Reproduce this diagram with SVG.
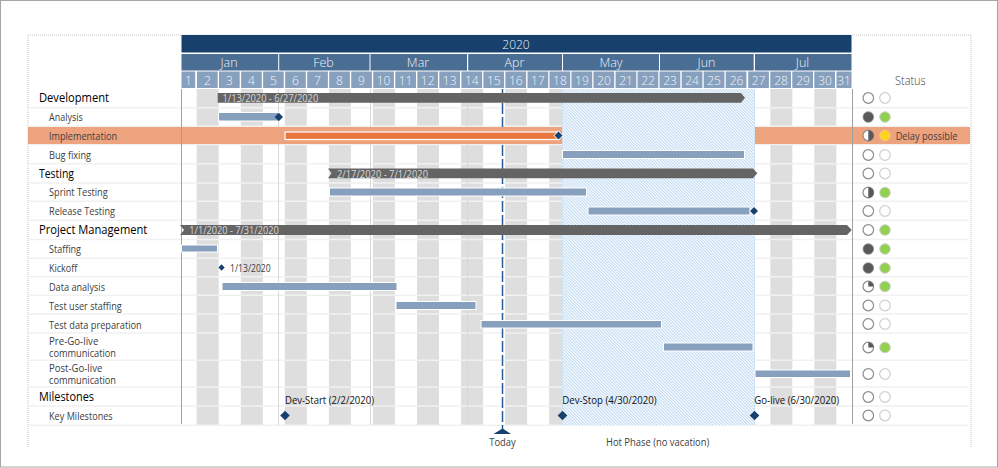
<svg xmlns="http://www.w3.org/2000/svg" width="998" height="468" viewBox="0 0 998 468">
<style>
text{font-family:"Open Sans","Noto Sans","Liberation Sans",sans-serif}
.st{fill:#dedede}
.sep{stroke:#f1f1f1;stroke-width:1.5;fill:none}
.mon{stroke:#d9d9d9;stroke-width:1;fill:none}
.mh{fill:#4a6d94}
.wh{fill:#87a0bd}
.mt{fill:#f0f3f7;font-size:12.5px;text-anchor:middle;font-weight:300}
.wt{fill:#f4f6f9;font-size:12px;text-anchor:middle;font-weight:300}
.h{fill:#000;font-size:13px}
.s{fill:#404040;font-size:10.5px}
.bar{fill:#87a0bd;stroke:#fff;stroke-width:1}
.sum{fill:#646464}
.st2{fill:#d8d8d8;font-size:10.5px}
.dia{fill:#17406d}
.dh{fill:#17406d;stroke:#fff;stroke-width:1.5;paint-order:stroke}
.ml{fill:#111;font-size:10.5px}
.a{fill:#fff;stroke:#8c8c8c;stroke-width:1.2}
.b{fill:#fff;stroke:#d0d0d0;stroke-width:1.2}
.f{fill:#595959;stroke:#8c8c8c;stroke-width:.8}
.g{fill:#92d050;stroke:#d0d0d0;stroke-width:1}
.p{fill:#595959}
</style>
<defs>
<pattern id="hatch" patternUnits="userSpaceOnUse" width="2.2" height="2.2" patternTransform="rotate(45)">
<rect width="2.2" height="2.2" fill="#fff"/>
<rect width="2.2" height="1.2" fill="#c4dcf3"/>
</pattern>
<path id="dm" d="M-6 0L0-6L6 0L0 6Z"/>
</defs>
<rect x="0.5" y="0.5" width="997" height="466.5" fill="#fff" stroke="#a6a6a6"/>
<path d="M28 447V35H971V447" fill="none" stroke="#c4c4c4" stroke-dasharray="1 1"/>

<g id="stripes">
<rect class="st" x="196.7" y="89" width="22" height="336"/>
<rect class="st" x="240.8" y="89" width="22" height="336"/>
<rect class="st" x="284.8" y="89" width="22" height="336"/>
<rect class="st" x="328.9" y="89" width="22" height="336"/>
<rect class="st" x="372.9" y="89" width="22" height="336"/>
<rect class="st" x="417" y="89" width="22" height="336"/>
<rect class="st" x="461.1" y="89" width="22" height="336"/>
<rect class="st" x="505.1" y="89" width="22" height="336"/>
<rect class="st" x="549.2" y="89" width="13" height="336"/>
<rect class="st" x="770.3" y="89" width="22" height="336"/>
<rect class="st" x="814.3" y="89" width="22" height="336"/>
</g>
<g id="row-lines">
<path class="sep" d="M28 107.7H968M28 126.2H968M28 144.6H968M28 163.7H968M28 183H968M28 201.2H968M28 220.2H968M28 239.6H968M28 258.2H968M28 276.8H968M28 295.2H968M28 314H968M28 333H968M28 360.3H968M28 387H968M28 406H968M28 425.2H968"/>
</g>
<g id="month-lines">
<path class="mon" d="M278.5 89V425M370.5 89V425M467.5 89V425"/>
</g>
<path id="today-line" d="M502.5 89V429" fill="none" stroke="#2a5c8f" stroke-width="1.5" stroke-dasharray="11 3"/>
<g id="highlight-band" fill="#eda47e">
<rect x="28" y="127" width="534" height="17"/>
<rect x="755" y="127" width="215" height="17"/>
</g>
<g id="hot-phase">
<rect x="562" y="89" width="193" height="336" fill="url(#hatch)"/>
<path d="M562.5 89V425M754.5 89V425" fill="none" stroke="#cfe2f6"/>
</g>
<path id="axes" d="M181.5 89V424M852.5 89V424" fill="none" stroke="#a0a0a0" stroke-width="1"/>

<g id="header">
<rect x="181.5" y="35" width="670" height="17.5" fill="#17406d"/>
<text x="516" y="49" class="mt" style="font-size:12px">2020</text>
<rect class="mh" x="181.5" y="54" width="96.7" height="16.5"/>
<rect class="mh" x="279.2" y="54" width="90.3" height="16.5"/>
<rect class="mh" x="370.5" y="54" width="96.5" height="16.5"/>
<rect class="mh" x="468.2" y="54" width="93.8" height="16.5"/>
<rect class="mh" x="563" y="54" width="96" height="16.5"/>
<rect class="mh" x="660" y="54" width="93.7" height="16.5"/>
<rect class="mh" x="755" y="54" width="96.5" height="16.5"/>
<text class="mt" x="229" y="66.5">Jan</text>
<text class="mt" x="323.5" y="66.5">Feb</text>
<text class="mt" x="418" y="66.5">Mar</text>
<text class="mt" x="514.5" y="66.5">Apr</text>
<text class="mt" x="611" y="66.5">May</text>
<text class="mt" x="706.5" y="66.5">Jun</text>
<text class="mt" x="802.5" y="66.5">Jul</text>
<rect class="wh" x="181.5" y="71.5" width="13.7" height="16.5"/><text class="wt" x="188.5" y="84.5">1</text>
<rect class="wh" x="197" y="71.5" width="20.7" height="16.5"/><text class="wt" x="207.4" y="84.5">2</text>
<rect class="wh" x="219" y="71.5" width="20.7" height="16.5"/><text class="wt" x="229.4" y="84.5">3</text>
<rect class="wh" x="241.1" y="71.5" width="20.7" height="16.5"/><text class="wt" x="251.5" y="84.5">4</text>
<rect class="wh" x="263.1" y="71.5" width="20.7" height="16.5"/><text class="wt" x="273.5" y="84.5">5</text>
<rect class="wh" x="285.1" y="71.5" width="20.7" height="16.5"/><text class="wt" x="295.5" y="84.5">6</text>
<rect class="wh" x="307.2" y="71.5" width="20.7" height="16.5"/><text class="wt" x="317.5" y="84.5">7</text>
<rect class="wh" x="329.2" y="71.5" width="20.7" height="16.5"/><text class="wt" x="339.5" y="84.5">8</text>
<rect class="wh" x="351.2" y="71.5" width="20.7" height="16.5"/><text class="wt" x="361.5" y="84.5">9</text>
<rect class="wh" x="373.2" y="71.5" width="20.7" height="16.5"/><text class="wt" x="383.6" y="84.5">10</text>
<rect class="wh" x="395.3" y="71.5" width="20.7" height="16.5"/><text class="wt" x="405.6" y="84.5">11</text>
<rect class="wh" x="417.3" y="71.5" width="20.7" height="16.5"/><text class="wt" x="427.7" y="84.5">12</text>
<rect class="wh" x="439.3" y="71.5" width="20.7" height="16.5"/><text class="wt" x="449.7" y="84.5">13</text>
<rect class="wh" x="461.4" y="71.5" width="20.7" height="16.5"/><text class="wt" x="471.8" y="84.5">14</text>
<rect class="wh" x="483.4" y="71.5" width="20.7" height="16.5"/><text class="wt" x="493.8" y="84.5">15</text>
<rect class="wh" x="505.4" y="71.5" width="20.7" height="16.5"/><text class="wt" x="515.8" y="84.5">16</text>
<rect class="wh" x="527.5" y="71.5" width="20.7" height="16.5"/><text class="wt" x="537.9" y="84.5">17</text>
<rect class="wh" x="549.5" y="71.5" width="20.7" height="16.5"/><text class="wt" x="559.9" y="84.5">18</text>
<rect class="wh" x="571.5" y="71.5" width="20.7" height="16.5"/><text class="wt" x="581.9" y="84.5">19</text>
<rect class="wh" x="593.5" y="71.5" width="20.7" height="16.5"/><text class="wt" x="603.9" y="84.5">20</text>
<rect class="wh" x="615.6" y="71.5" width="20.7" height="16.5"/><text class="wt" x="626" y="84.5">21</text>
<rect class="wh" x="637.6" y="71.5" width="20.7" height="16.5"/><text class="wt" x="648" y="84.5">22</text>
<rect class="wh" x="659.6" y="71.5" width="20.7" height="16.5"/><text class="wt" x="670" y="84.5">23</text>
<rect class="wh" x="681.7" y="71.5" width="20.7" height="16.5"/><text class="wt" x="692" y="84.5">24</text>
<rect class="wh" x="703.7" y="71.5" width="20.7" height="16.5"/><text class="wt" x="714" y="84.5">25</text>
<rect class="wh" x="725.7" y="71.5" width="20.7" height="16.5"/><text class="wt" x="736.5" y="84.5">26</text>
<rect class="wh" x="748.2" y="71.5" width="20.7" height="16.5"/><text class="wt" x="758.5" y="84.5">27</text>
<rect class="wh" x="770.3" y="71.5" width="20.7" height="16.5"/><text class="wt" x="781" y="84.5">28</text>
<rect class="wh" x="792.3" y="71.5" width="20.7" height="16.5"/><text class="wt" x="803" y="84.5">29</text>
<rect class="wh" x="814.3" y="71.5" width="20.7" height="16.5"/><text class="wt" x="825" y="84.5">30</text>
<rect class="wh" x="836.5" y="71.5" width="15" height="16.5"/><text class="wt" x="844" y="84.5">31</text>
<text x="895" y="85" fill="#404040" textLength="30.7" lengthAdjust="spacingAndGlyphs" style="font-size:12px;font-weight:300">Status</text>
</g>

<g id="row-development">
<text class="h" x="39" y="102" textLength="70" lengthAdjust="spacingAndGlyphs">Development</text>
<path class="sum" d="M217.7 93H741L745 97.8L741 102.7H217.7Z"/>
<text class="st2" x="222.5" y="102" textLength="95.7" lengthAdjust="spacingAndGlyphs">1/13/2020 - 6/27/2020</text>
<circle class="a" cx="868.3" cy="98" r="5.3"/><circle class="b" cx="885" cy="98" r="5.3"/>
</g>
<g id="row-analysis">
<text class="s" x="49" y="121" textLength="33.7" lengthAdjust="spacingAndGlyphs">Analysis</text>
<rect class="bar" x="218.5" y="112.5" width="60" height="8.5"/>
<path class="dia" d="M274.6 117L278.8 112.8L283 117L278.8 121.2Z"/>
<circle class="f" cx="868.3" cy="117" r="5.3"/><circle class="g" cx="885" cy="117" r="5.3"/>
</g>
<g id="row-implementation">
<text class="s" x="49" y="140" textLength="68" lengthAdjust="spacingAndGlyphs">Implementation</text>
<rect x="285" y="132" width="274" height="7.5" fill="#e8773d" stroke="#fff" stroke-width="1.2"/>
<path d="M554.5 135.5L558.5 131.5L562.5 135.5L558.5 139.5Z" class="dh"/>
<circle class="a" cx="868.3" cy="135.5" r="5.3"/><path class="p" d="M868.3 130.2A5.3 5.3 0 0 1 868.3 140.8Z"/>
<circle cx="885" cy="135.5" r="5.3" fill="#ffd21e" stroke="#e6c9a0" stroke-width=".8"/>
<text x="895.7" y="140" fill="#404040" textLength="61.7" lengthAdjust="spacingAndGlyphs" style="font-size:10.5px">Delay possible</text>
</g>
<g id="row-bug-fixing">
<text class="s" x="49" y="159" textLength="42" lengthAdjust="spacingAndGlyphs">Bug fixing</text>
<rect class="bar" x="562.5" y="150.5" width="182" height="8"/>
<circle class="a" cx="868.3" cy="155" r="5.3"/><circle class="b" cx="885" cy="155" r="5.3"/>
</g>
<g id="row-testing">
<text class="h" x="39" y="178" textLength="35" lengthAdjust="spacingAndGlyphs">Testing</text>
<path class="sum" d="M328 168.5H753L757.3 173.3L753 178.2H328L331.5 173.3Z"/>
<text class="st2" x="337" y="177.5" textLength="91" lengthAdjust="spacingAndGlyphs">2/17/2020 - 7/1/2020</text>
<circle class="a" cx="868.3" cy="173.5" r="5.3"/><circle class="b" cx="885" cy="173.5" r="5.3"/>
</g>
<g id="row-sprint-testing">
<text class="s" x="49" y="196" textLength="58.7" lengthAdjust="spacingAndGlyphs">Sprint Testing</text>
<rect class="bar" x="329.5" y="188" width="257" height="8"/>
<circle class="a" cx="868.3" cy="192.5" r="5.3"/><path class="p" d="M868.3 187.2A5.3 5.3 0 0 1 868.3 197.8Z"/>
<circle class="g" cx="885" cy="192.5" r="5.3"/>
</g>
<g id="row-release-testing">
<text class="s" x="49" y="215" textLength="66" lengthAdjust="spacingAndGlyphs">Release Testing</text>
<rect class="bar" x="588" y="207" width="162" height="8"/>
<path d="M750 211L754 207L758 211L754 215Z" class="dh"/>
<circle class="a" cx="868.3" cy="211" r="5.3"/><circle class="b" cx="885" cy="211" r="5.3"/>
</g>
<g id="row-project-management">
<text class="h" x="39" y="234" textLength="108.3" lengthAdjust="spacingAndGlyphs">Project Management</text>
<path class="sum" d="M180 225H847L851.7 230L847 235H180L184 230Z"/>
<text class="st2" x="189.3" y="234" textLength="89.4" lengthAdjust="spacingAndGlyphs">1/1/2020 - 7/31/2020</text>
<circle class="a" cx="868.3" cy="230" r="5.3"/><circle class="g" cx="885" cy="230" r="5.3"/>
</g>
<g id="row-staffing">
<text class="s" x="49" y="253" textLength="32" lengthAdjust="spacingAndGlyphs">Staffing</text>
<rect class="bar" x="181.5" y="245" width="36" height="7"/>
<circle class="f" cx="868.3" cy="249" r="5.3"/><circle class="g" cx="885" cy="249" r="5.3"/>
</g>
<g id="row-kickoff">
<text class="s" x="49" y="272" textLength="28.3" lengthAdjust="spacingAndGlyphs">Kickoff</text>
<path class="dia" d="M218.5 267.5L221.5 264.3L224.7 267.5L221.5 270.7Z"/>
<text x="230" y="271.5" fill="#404040" textLength="40.7" lengthAdjust="spacingAndGlyphs" style="font-size:10.5px">1/13/2020</text>
<circle class="f" cx="868.3" cy="268" r="5.3"/><circle class="g" cx="885" cy="268" r="5.3"/>
</g>
<g id="row-data-analysis">
<text class="s" x="49" y="291" textLength="56" lengthAdjust="spacingAndGlyphs">Data analysis</text>
<rect class="bar" x="222" y="282.5" width="175" height="8"/>
<circle class="a" cx="868.3" cy="286.5" r="5.3"/><path class="p" d="M868.3 286.5V281.2A5.3 5.3 0 0 1 873.6 286.5Z"/>
<circle class="g" cx="885" cy="286.5" r="5.3"/>
</g>
<g id="row-test-user-staffing">
<text class="s" x="49" y="309.5" textLength="72.7" lengthAdjust="spacingAndGlyphs">Test user staffing</text>
<rect class="bar" x="396" y="301.5" width="80" height="8"/>
<circle class="a" cx="868.3" cy="305.5" r="5.3"/><circle class="b" cx="885" cy="305.5" r="5.3"/>
</g>
<g id="row-test-data-preparation">
<text class="s" x="49" y="328.5" textLength="92.7" lengthAdjust="spacingAndGlyphs">Test data preparation</text>
<rect class="bar" x="481" y="320.5" width="180.5" height="7.5"/>
<circle class="a" cx="868.3" cy="324" r="5.3"/><circle class="b" cx="885" cy="324" r="5.3"/>
</g>
<g id="row-pre-go-live">
<text class="s"><tspan x="49" y="345" textLength="49.3" lengthAdjust="spacingAndGlyphs">Pre-Go-live</tspan><tspan x="49" y="357" textLength="67" lengthAdjust="spacingAndGlyphs">communication</tspan></text>
<rect class="bar" x="663.5" y="343" width="89.5" height="8"/>
<circle class="a" cx="868.3" cy="347.5" r="5.3"/><path class="p" d="M868.3 347.5V342.2A5.3 5.3 0 0 1 873.6 347.5Z"/>
<circle class="g" cx="885" cy="347.5" r="5.3"/>
</g>
<g id="row-post-go-live">
<text class="s"><tspan x="49" y="372" textLength="53.3" lengthAdjust="spacingAndGlyphs">Post-Go-live</tspan><tspan x="49" y="384" textLength="67" lengthAdjust="spacingAndGlyphs">communication</tspan></text>
<rect class="bar" x="755" y="370" width="95.5" height="7.5"/>
<circle class="a" cx="868.3" cy="374" r="5.3"/><circle class="b" cx="885" cy="374" r="5.3"/>
</g>
<g id="row-milestones">
<text class="h" x="39" y="401" textLength="55" lengthAdjust="spacingAndGlyphs">Milestones</text>
<text class="ml" x="285" y="404" textLength="89" lengthAdjust="spacingAndGlyphs">Dev-Start (2/2/2020)</text>
<text class="ml" x="562.3" y="404" textLength="94.4" lengthAdjust="spacingAndGlyphs">Dev-Stop (4/30/2020)</text>
<text class="ml" x="754.3" y="404" textLength="84.7" lengthAdjust="spacingAndGlyphs">Go-live (6/30/2020)</text>
<circle class="a" cx="868.3" cy="397" r="5.3"/><circle class="b" cx="885" cy="397" r="5.3"/>
</g>
<g id="row-key-milestones">
<text class="s" x="49" y="420" textLength="63.7" lengthAdjust="spacingAndGlyphs">Key Milestones</text>
<use href="#dm" class="dia" transform="translate(285 415.5) scale(.8)"/>
<use href="#dm" class="dia" transform="translate(562.5 415.5) scale(.8)"/>
<use href="#dm" class="dia" transform="translate(754.5 415.5) scale(.8)"/>
<circle class="a" cx="868.3" cy="415.5" r="5.3"/><circle class="b" cx="885" cy="415.5" r="5.3"/>
</g>
<g id="today">
<path class="dia" d="M493.5 434L502.5 428.5L511 434Z"/>
<text x="489.3" y="446" fill="#404040" textLength="26.4" lengthAdjust="spacingAndGlyphs" style="font-size:10.5px">Today</text>
</g>
<text id="hot-phase-label" x="606" y="446" fill="#404040" textLength="103.3" lengthAdjust="spacingAndGlyphs" style="font-size:10.5px">Hot Phase (no vacation)</text>
</svg>
